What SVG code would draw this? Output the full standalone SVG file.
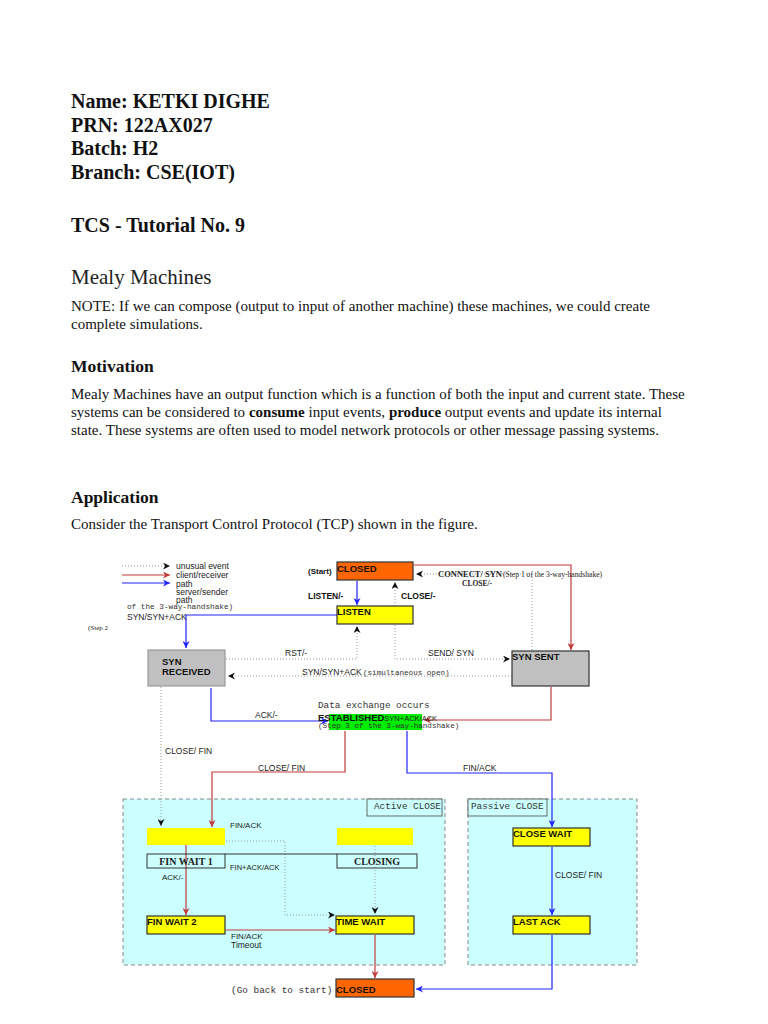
<svg xmlns="http://www.w3.org/2000/svg" width="768" height="1024" viewBox="0 0 768 1024">
<style>
.h{font-family:"Liberation Serif",serif;font-weight:bold;fill:#111}
.p{font-family:"Liberation Serif",serif;font-size:15px;fill:#111}
.s{font-family:"Liberation Sans",Arial,sans-serif;fill:#222}
.sb{font-family:"Liberation Sans",Arial,sans-serif;font-weight:bold;fill:#111}
.m{font-family:"Liberation Mono","DejaVu Sans Mono",monospace;fill:#333}
.sf{font-family:"Liberation Serif",serif;fill:#222}
.box{stroke:#333;stroke-width:1.2}
.red{fill:none;stroke:#c23b3b;stroke-width:1.2;marker-end:url(#ar)}
.blue{fill:none;stroke:#2323ff;stroke-width:1.2;marker-end:url(#ab)}
.dot{fill:none;stroke:#999;stroke-width:1;stroke-dasharray:1 2;marker-end:url(#ak)}
</style>
<defs>
<marker id="ar" viewBox="0 0 10 10" refX="10" refY="5" markerWidth="7" markerHeight="7" orient="auto" markerUnits="userSpaceOnUse"><path d="M0,0 L10,5 L0,10 L3,5 z" fill="#c23b3b"/></marker>
<marker id="ab" viewBox="0 0 10 10" refX="10" refY="5" markerWidth="7" markerHeight="7" orient="auto" markerUnits="userSpaceOnUse"><path d="M0,0 L10,5 L0,10 L3,5 z" fill="#2323ff"/></marker>
<marker id="ak" viewBox="0 0 10 10" refX="10" refY="5" markerWidth="7" markerHeight="7" orient="auto" markerUnits="userSpaceOnUse"><path d="M0,0 L10,5 L0,10 L3,5 z" fill="#111"/></marker>
</defs>
<rect width="768" height="1024" fill="#fff"/>
<g id="page-text">
<text class="h" x="71" y="108" font-size="20">Name: KETKI DIGHE</text>
<text class="h" x="71" y="132" font-size="20">PRN: 122AX027</text>
<text class="h" x="71" y="155" font-size="20">Batch: H2</text>
<text class="h" x="71" y="179" font-size="20">Branch: CSE(IOT)</text>
<text class="h" x="71" y="232" font-size="20">TCS - Tutorial No. 9</text>
<text class="sf" x="71" y="284" font-size="21" fill="#111">Mealy Machines</text>
<text class="p" x="71" y="311">NOTE: If we can compose (output to input of another machine) these machines, we could create</text>
<text class="p" x="71" y="329">complete simulations.</text>
<text class="h" x="71" y="372" font-size="17.5">Motivation</text>
<text class="p" x="71" y="399">Mealy Machines have an output function which is a function of both the input and current state. These</text>
<text class="p" x="71" y="417">systems can be considered to <tspan font-weight="bold">consume</tspan> input events, <tspan font-weight="bold">produce</tspan> output events and update its internal</text>
<text class="p" x="71" y="435">state. These systems are often used to model network protocols or other message passing systems.</text>
<text class="h" x="71" y="503" font-size="17.5">Application</text>
<text class="p" x="71" y="529">Consider the Transport Control Protocol (TCP) shown in the figure.</text>
</g>
<g id="regions">
<rect x="123" y="799" width="322" height="166" fill="#ccffff" stroke="#888" stroke-dasharray="4 3"/>
<rect x="468" y="799" width="169" height="166" fill="#ccffff" stroke="#888" stroke-dasharray="4 3"/>
<rect x="367" y="799" width="75" height="17" fill="#ccffff" stroke="#666"/>
<text class="m" x="374" y="809" font-size="9.3">Active CLOSE</text>
<rect x="468" y="799" width="79" height="17" fill="#ccffff" stroke="#666"/>
<text class="m" x="471" y="809" font-size="9.3">Passive CLOSE</text>
</g>
<g id="legend">
<path d="M122,566 H170" fill="none" stroke="#999" stroke-dasharray="1 2" marker-end="url(#ak)"/>
<path d="M122,575 H170" class="red"/>
<path d="M122,583 H170" class="blue"/>
<text class="s" x="176" y="569" font-size="8.5">unusual event</text>
<text class="s" x="176" y="578" font-size="8.5">client/receiver</text>
<text class="s" x="176" y="587" font-size="8.5">path</text>
<text class="s" x="176" y="595" font-size="8.5">server/sender</text>
<text class="s" x="176" y="603" font-size="8.5">path</text>
</g>
<g id="connectors">
<path class="blue" d="M357,581 V605"/>
<path class="blue" d="M337,615 H186 V648"/>
<path class="blue" d="M211,688 V721 H328"/>
<path class="blue" d="M407,731 V773 H552 V827"/>
<path class="blue" d="M552,847 V915"/>
<path class="blue" d="M552,935 V989 H416"/>
<path class="red" d="M414,565 H571 V650"/>
<path class="red" d="M551,687 V720 H424"/>
<path class="red" d="M345,731 V772 H212 V827"/>
<path class="red" d="M186,845 V915"/>
<path class="red" d="M226,930 H335"/>
<path class="red" d="M375,935 V978"/>
<path class="dot" d="M532,650 V574 H416"/>
<path class="dot" d="M395,606 V582"/>
<path class="dot" d="M395,625 V659 H510"/>
<path class="dot" d="M226,659 H357 V626"/>
<path class="dot" d="M512,676 H228"/>
<path class="dot" d="M161,687 V826"/>
<path class="dot" d="M226,841 H285 V915 H335"/>
<path class="dot" d="M375,846 V914"/>
<path d="M225,854 H337" stroke="#333" stroke-width="1" fill="none"/>
</g>
<g id="labels">
<text class="sb" x="308" y="574" font-size="8">(Start)</text>
<text class="sf" x="438" y="577" font-size="8.5" font-weight="bold">CONNECT/ SYN</text>
<text class="sf" x="503" y="577" font-size="7.6">(Step 1 of the 3-way-handshake)</text>
<text class="sf" x="462" y="586" font-size="7.5" font-weight="bold">CLOSE/-</text>
<text class="sb" x="308" y="599" font-size="8.5">LISTEN/-</text>
<text class="sb" x="401" y="599" font-size="8.5">CLOSE/-</text>
<text class="m" x="127" y="609" font-size="7.7">of the 3-way-handshake)</text>
<text class="s" x="127" y="620" font-size="8.5">SYN/SYN+ACK</text>
<text class="sf" x="88" y="630" font-size="7">(Step 2</text>
<text class="s" x="285" y="656" font-size="8.5">RST/-</text>
<text class="s" x="428" y="656" font-size="8.5">SEND/ SYN</text>
<text class="s" x="302" y="675" font-size="8.5">SYN/SYN+ACK</text>
<text class="m" x="363" y="675" font-size="7.6">(simultaneous open)</text>
<text class="m" x="318" y="708" font-size="9.3">Data exchange occurs</text>
<text class="s" x="255" y="718" font-size="8.5">ACK/-</text>
<text class="s" x="165" y="754" font-size="8.5">CLOSE/ FIN</text>
<text class="s" x="258" y="771" font-size="8.5">CLOSE/ FIN</text>
<text class="s" x="463" y="771" font-size="8.5">FIN/ACK</text>
<text class="s" x="230" y="828" font-size="8">FIN/ACK</text>
<text class="s" x="230" y="870" font-size="7.5">FIN+ACK/ACK</text>
<text class="s" x="162" y="880" font-size="8">ACK/-</text>
<text class="s" x="555" y="878" font-size="8.5">CLOSE/ FIN</text>
<text class="s" x="231" y="939" font-size="8">FIN/ACK</text>
<text class="s" x="231" y="948" font-size="8.5">Timeout</text>
<text class="m" x="231" y="993" font-size="9.4">(Go back to start)</text>
</g>
<g id="node-closed">
<rect class="box" x="337" y="562" width="76" height="18" fill="#ff6600"/>
<text class="sb" x="337" y="572" font-size="9.5">CLOSED</text>
</g>
<g id="node-listen">
<rect class="box" x="337" y="606" width="76" height="18" fill="#ffff00"/>
<text class="sb" x="337" y="615" font-size="9.5">LISTEN</text>
</g>
<g id="node-syn-received">
<rect x="148" y="650" width="77" height="36" fill="#c0c0c0" stroke="#999" stroke-width="1.2"/>
<text class="sb" x="162" y="665" font-size="9.5">SYN</text>
<text class="sb" x="162" y="675" font-size="9.5">RECEIVED</text>
</g>
<g id="node-syn-sent">
<rect class="box" x="512" y="651" width="77" height="35" fill="#c0c0c0"/>
<text class="sb" x="512" y="660" font-size="9.5">SYN SENT</text>
</g>
<g id="node-established">
<rect x="329" y="714" width="93" height="16" fill="#00ee00"/>
<text class="sb" x="318" y="721" font-size="9.5">ESTABLISHED<tspan class="s" font-weight="normal" font-size="7.5">SYN+ACK/ACK</tspan></text>
<text class="m" x="318" y="728" font-size="7.6">(Step 3 of the 3-way-handshake)</text>
</g>
<g id="node-fin-wait-1">
<rect x="147" y="828" width="78" height="17" fill="#ffff00"/>
<rect x="147" y="854" width="78" height="14" fill="none" stroke="#333"/>
<text class="sf" x="186" y="865" font-size="10" font-weight="bold" text-anchor="middle">FIN WAIT 1</text>
</g>
<g id="node-closing">
<rect x="337" y="828" width="76" height="17" fill="#ffff00"/>
<rect x="337" y="854" width="80" height="14" fill="none" stroke="#333"/>
<text class="sf" x="377" y="865" font-size="10" font-weight="bold" text-anchor="middle">CLOSING</text>
</g>
<g id="node-fin-wait-2">
<rect class="box" x="147" y="916" width="78" height="18" fill="#ffff00"/>
<text class="sb" x="147" y="925" font-size="9.5">FIN WAIT 2</text>
</g>
<g id="node-time-wait">
<rect class="box" x="336" y="916" width="78" height="18" fill="#ffff00"/>
<text class="sb" x="336" y="925" font-size="9.5">TIME WAIT</text>
</g>
<g id="node-close-wait">
<rect class="box" x="513" y="828" width="77" height="18" fill="#ffff00"/>
<text class="sb" x="513" y="837" font-size="9.5">CLOSE WAIT</text>
</g>
<g id="node-last-ack">
<rect class="box" x="513" y="916" width="77" height="18" fill="#ffff00"/>
<text class="sb" x="513" y="925" font-size="9.5">LAST ACK</text>
</g>
<g id="node-closed-2">
<rect class="box" x="336" y="979" width="78" height="18" fill="#ff6600" stroke="#999"/>
<text class="sb" x="336" y="993" font-size="9.5">CLOSED</text>
</g>
</svg>
